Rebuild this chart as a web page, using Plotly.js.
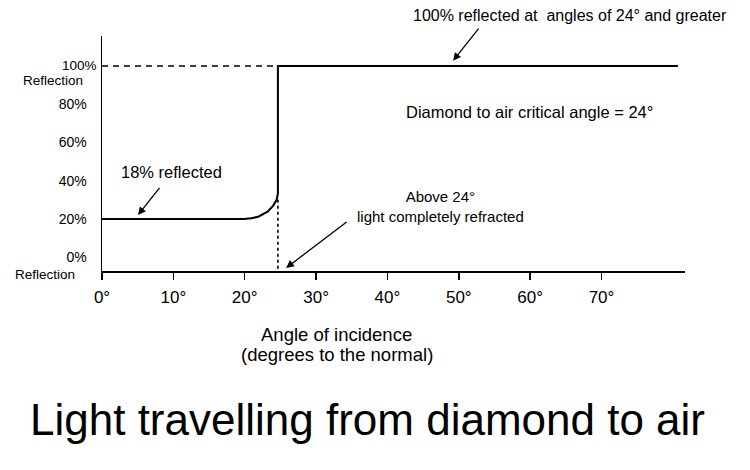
<!DOCTYPE html>
<html>
<head>
<meta charset="utf-8">
<script src="https://cdn.plot.ly/plotly-3.0.1.min.js"></script>
<style>html,body{margin:0;padding:0;background:#fff;}#chart{width:750px;height:470px;}</style>
</head>
<body>
<div id="chart"></div>
<script>
// Reflection curve (angle of incidence in degrees, reflection in %)
const angle = [0, 19.9, 20.9, 21.9, 23.2, 24.0, 24.5, 24.65, 24.65, 80.7];
const reflection = [20, 20, 20.4, 21.2, 23.8, 27.0, 30.3, 33.4, 100, 100];

// Guide lines
const criticalAngle = 24.65;
const dashGuideX = [0, criticalAngle];
const dashGuideY = [100, 100];
const dotGuideX = [criticalAngle, criticalAngle];
const dotGuideY = [30, -7.2];

// Axis ticks
const xTickVals = [0, 10, 20, 30, 40, 50, 60, 70];
const xTickText = ['0°', '10°', '20°', '30°', '40°', '50°', '60°', '70°'];
const yTickVals = [0, 20, 40, 60, 80];
const yTickText = ['0%', '20%', '40%', '60%', '80%'];

const FONT = 'Liberation Sans, Arial, Helvetica, sans-serif';
const INK = '#000';

const traces = [
  {x: dashGuideX, y: dashGuideY, mode: 'lines', line: {color: INK, width: 1.4, dash: '6px,5px'}, hoverinfo: 'skip', showlegend: false},
  {x: dotGuideX, y: dotGuideY, mode: 'lines', line: {color: INK, width: 1.6, dash: '3px,3px'}, hoverinfo: 'skip', showlegend: false},
  {x: angle, y: reflection, mode: 'lines', line: {color: INK, width: 2}, showlegend: false}
];

function txt(text, x, y, size, xanchor) {
  return {text: text, xref: 'paper', yref: 'paper', x: x, y: y, showarrow: false,
          xanchor: xanchor || 'center', yanchor: 'middle', font: {family: FONT, size: size, color: INK}};
}
function arrow(tipX, tipY, ax, ay) {
  return {text: ' ', x: tipX, y: tipY, xref: 'x', yref: 'y', showarrow: true,
          ax: ax, ay: ay, arrowhead: 2, arrowsize: 1.2, arrowwidth: 1.3, arrowcolor: INK,
          font: {size: 1}};
}

const annotations = [
  txt('100%', -0.0055, 100.5, 13.5, 'right'),
  txt('Reflection', -0.0297, 0.810, 13.5, 'right'),
  txt('Reflection', -0.0434, -0.0128, 13.5, 'right'),
  txt('18% reflected', 0.1186, 0.4226, 16.5),
  txt('Above 24°<br>light completely refracted', 0.5813, 0.2745, 15),
  txt('Diamond to air critical angle = 24°', 0.7331, 0.6779, 16.5),
  txt('100% reflected at\u00a0 angles of 24° and greater', 0.8021, 1.0864, 16),
  txt('Angle of incidence', 0.4028, -0.2681, 18.5),
  txt('(degrees to the normal)', 0.4028, -0.3574, 18.5),
  arrow(5.05, 22.1, 23, -29),
  arrow(25.8, -5.6, 62, -47),
  arrow(49.2, 102.8, 27, -34)
];
annotations[0].yref = 'y';

const layout = {
  width: 750, height: 470,
  margin: {l: 102, r: 65, t: 36, b: 199},
  paper_bgcolor: '#fff', plot_bgcolor: '#fff',
  font: {family: FONT, color: INK},
  title: {text: 'Light travelling from diamond to air', font: {family: FONT, size: 44, color: INK},
          xref: 'container', yref: 'container', x: 0.49, y: 0.1064, xanchor: 'center', yanchor: 'middle'},
  xaxis: {range: [0, 81.7], tickvals: xTickVals, ticktext: xTickText, showgrid: false, zeroline: false,
          showline: true, linecolor: INK, linewidth: 1.5, ticks: 'outside', ticklen: 7, tickwidth: 1.5,
          tickcolor: INK, ticklabelstandoff: 3, tickfont: {family: FONT, size: 17, color: INK}, fixedrange: true},
  yaxis: {range: [-7.2, 115.7], tickvals: yTickVals, ticktext: yTickText, showgrid: false, zeroline: false,
          showline: true, linecolor: INK, linewidth: 1.5, ticks: '', ticklabelstandoff: 11,
          tickfont: {family: FONT, size: 14, color: INK}, fixedrange: true},
  annotations: annotations,
  showlegend: false
};

Plotly.newPlot('chart', traces, layout, {displayModeBar: false, staticPlot: true});
</script>
</body>
</html>
